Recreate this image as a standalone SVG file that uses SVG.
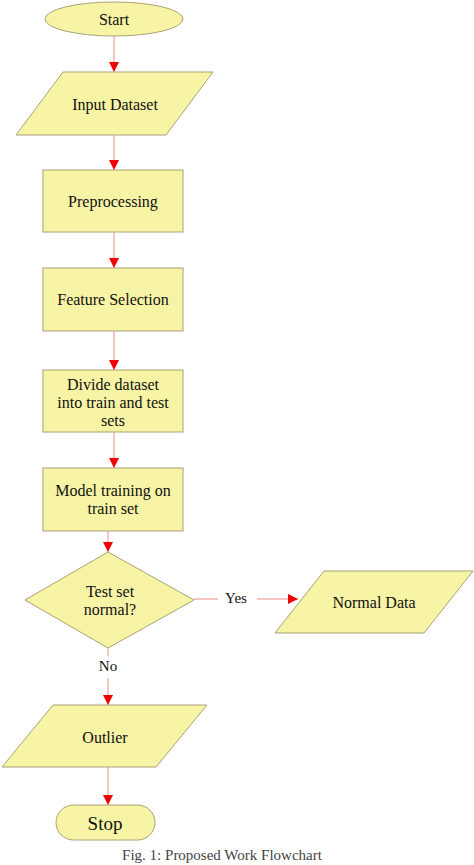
<svg xmlns="http://www.w3.org/2000/svg" width="474" height="865" viewBox="0 0 474 865">
<style>
.n{fill:#f8f4a6;stroke:#a8a274;stroke-width:1}
.t{font-family:"Liberation Serif","Times New Roman",serif;font-size:16px;fill:#111;text-anchor:middle}
.c{stroke:#f08a8a;stroke-width:1;fill:none}
.l{font-family:"Liberation Serif","Times New Roman",serif;font-size:15px;fill:#111;text-anchor:middle}
</style>
<defs>
<marker id="a" viewBox="0 0 10 10" refX="10" refY="5" markerWidth="10" markerHeight="10" markerUnits="userSpaceOnUse" orient="auto">
<path d="M0,0 L10,5 L0,10 z" fill="#f00000"/>
</marker>
</defs>
<rect width="474" height="865" fill="#fff"/>
<g id="connectors">
<line class="c" x1="114" y1="36" x2="114" y2="72" marker-end="url(#a)"/>
<line class="c" x1="114" y1="135" x2="114" y2="170" marker-end="url(#a)"/>
<line class="c" x1="114" y1="232" x2="114" y2="268" marker-end="url(#a)"/>
<line class="c" x1="114" y1="331" x2="114" y2="370" marker-end="url(#a)"/>
<line class="c" x1="114" y1="432" x2="114" y2="468" marker-end="url(#a)"/>
<line class="c" x1="108" y1="531" x2="108" y2="552" marker-end="url(#a)"/>
<line class="c" x1="194" y1="599" x2="218" y2="599"/>
<line class="c" x1="257" y1="599" x2="298" y2="599" marker-end="url(#a)"/>
<text class="l" x="236" y="603">Yes</text>
<line class="c" x1="108" y1="648" x2="108" y2="656"/>
<line class="c" x1="108" y1="678" x2="108" y2="705" marker-end="url(#a)"/>
<text class="l" x="108" y="671">No</text>
<line class="c" x1="108" y1="767" x2="108" y2="805" marker-end="url(#a)"/>
</g>
<g id="start">
<ellipse class="n" cx="114" cy="19" rx="69" ry="17"/>
<text class="t" x="114" y="25">Start</text>
</g>
<g id="input">
<polygon class="n" points="63,72 213,72 166,135 16,135"/>
<text class="t" x="115" y="110">Input Dataset</text>
</g>
<g id="preprocessing">
<rect class="n" x="43" y="170" width="140" height="62"/>
<text class="t" x="113" y="207">Preprocessing</text>
</g>
<g id="feature">
<rect class="n" x="43" y="268" width="140" height="63"/>
<text class="t" x="113" y="305">Feature Selection</text>
</g>
<g id="divide">
<rect class="n" x="43" y="370" width="140" height="62"/>
<text class="t" x="113" y="390">Divide dataset</text>
<text class="t" x="113" y="408">into train and test</text>
<text class="t" x="113" y="426">sets</text>
</g>
<g id="model">
<rect class="n" x="43" y="468" width="140" height="63"/>
<text class="t" x="113" y="496">Model training on</text>
<text class="t" x="113" y="514">train set</text>
</g>
<g id="decision">
<polygon class="n" points="108,552 194,600 108,648 25,600"/>
<text class="t" x="110" y="597">Test set</text>
<text class="t" x="110" y="615">normal?</text>
</g>
<g id="normal">
<polygon class="n" points="324,571 473,571 424,633 275,633"/>
<text class="t" x="374" y="608">Normal Data</text>
</g>
<g id="outlier">
<polygon class="n" points="53,705 207,705 156,767 2,767"/>
<text class="t" x="105" y="743">Outlier</text>
</g>
<g id="stop">
<rect class="n" x="56" y="805" width="99" height="35" rx="17.5"/>
<text class="t" x="105" y="830" style="font-size:19px">Stop</text>
</g>
<text x="222" y="860" style="font-family:'Liberation Serif','Times New Roman',serif;font-size:15px;fill:#444;text-anchor:middle">Fig. 1: Proposed Work Flowchart</text>
</svg>
